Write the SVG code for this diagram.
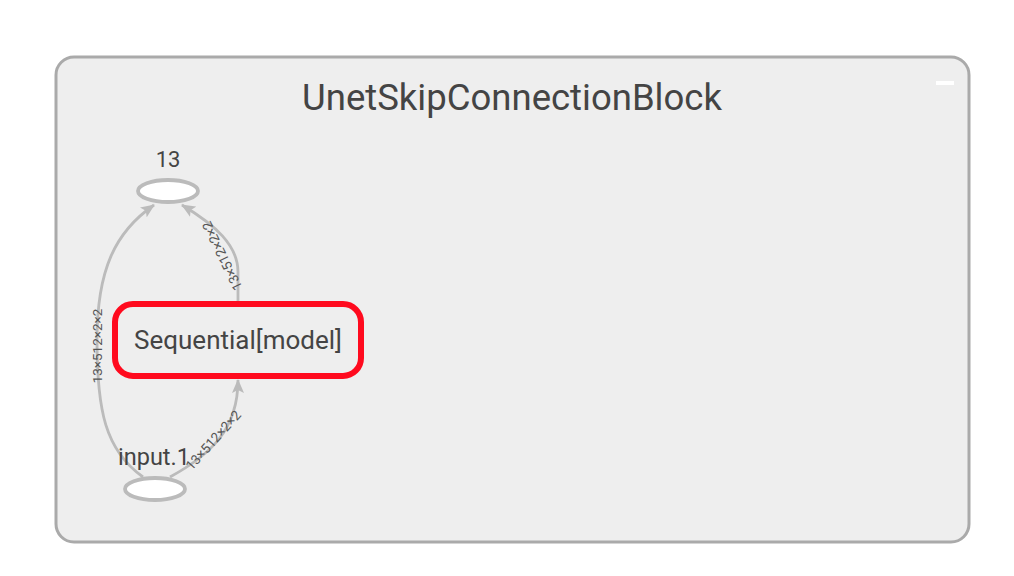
<svg xmlns="http://www.w3.org/2000/svg" width="1014" height="576" viewBox="0 0 1014 576">
<style>
.lbl{font-family:Roboto,"Liberation Sans",sans-serif;fill:#444}
.elbl{font-family:Roboto,"Liberation Sans",sans-serif;fill:#555;font-size:13.5px;text-anchor:middle;dominant-baseline:central}
.edge{fill:none;stroke:#bbb;stroke-width:2.8;marker-end:url(#arr)}
.op{fill:#fff;stroke:#bbb;stroke-width:3.8}
</style>
<defs>
<marker id="arr" markerUnits="userSpaceOnUse" viewBox="0 0 14 12" refX="13" refY="6" markerWidth="14" markerHeight="12" orient="auto">
<path d="M0,0 L14,6 L0,12 L3,6 Z" fill="#bbb"/>
</marker>
</defs>
<rect width="1014" height="576" fill="#fff"/>
<g id="block">
<rect x="56" y="57" width="913" height="485" rx="18" fill="#eee" stroke="#aaa" stroke-width="3"/>
<text class="lbl" x="512" y="110" font-size="36.5" text-anchor="middle">UnetSkipConnectionBlock</text>
<rect x="936" y="81" width="18" height="4" fill="#fff"/>
</g>
<g id="connectors">
<path class="edge" d="M143,477 C105,450 97,410 97,340 C97,270 115,232 154,205"/>
<path class="edge" d="M170,477 C210,455 238,430 238,380"/>
<path class="edge" d="M238,304 L238,272 C238,245 215,225 182,205"/>
<text class="elbl" transform="translate(97,346) rotate(-90)">13×512×2×2</text>
<text class="elbl" transform="translate(213,440) rotate(-48)">13×512×2×2</text>
<text class="elbl" transform="translate(222,256) rotate(-116)">13×512×2×2</text>
</g>
<g id="node-13">
<ellipse class="op" cx="168" cy="191" rx="30" ry="11"/>
<text class="lbl" x="168" y="167" font-size="22" text-anchor="middle">13</text>
</g>
<g id="node-sequential">
<rect x="115" y="304" width="246" height="72" rx="18" fill="#eee" stroke="#ff0a1e" stroke-width="6"/>
<text class="lbl" x="238" y="349" font-size="26" text-anchor="middle">Sequential[model]</text>
</g>
<g id="node-input1">
<ellipse class="op" cx="155" cy="489" rx="30" ry="11"/>
<text class="lbl" x="154" y="465" font-size="23.5" text-anchor="middle">input.1</text>
</g>
</svg>
